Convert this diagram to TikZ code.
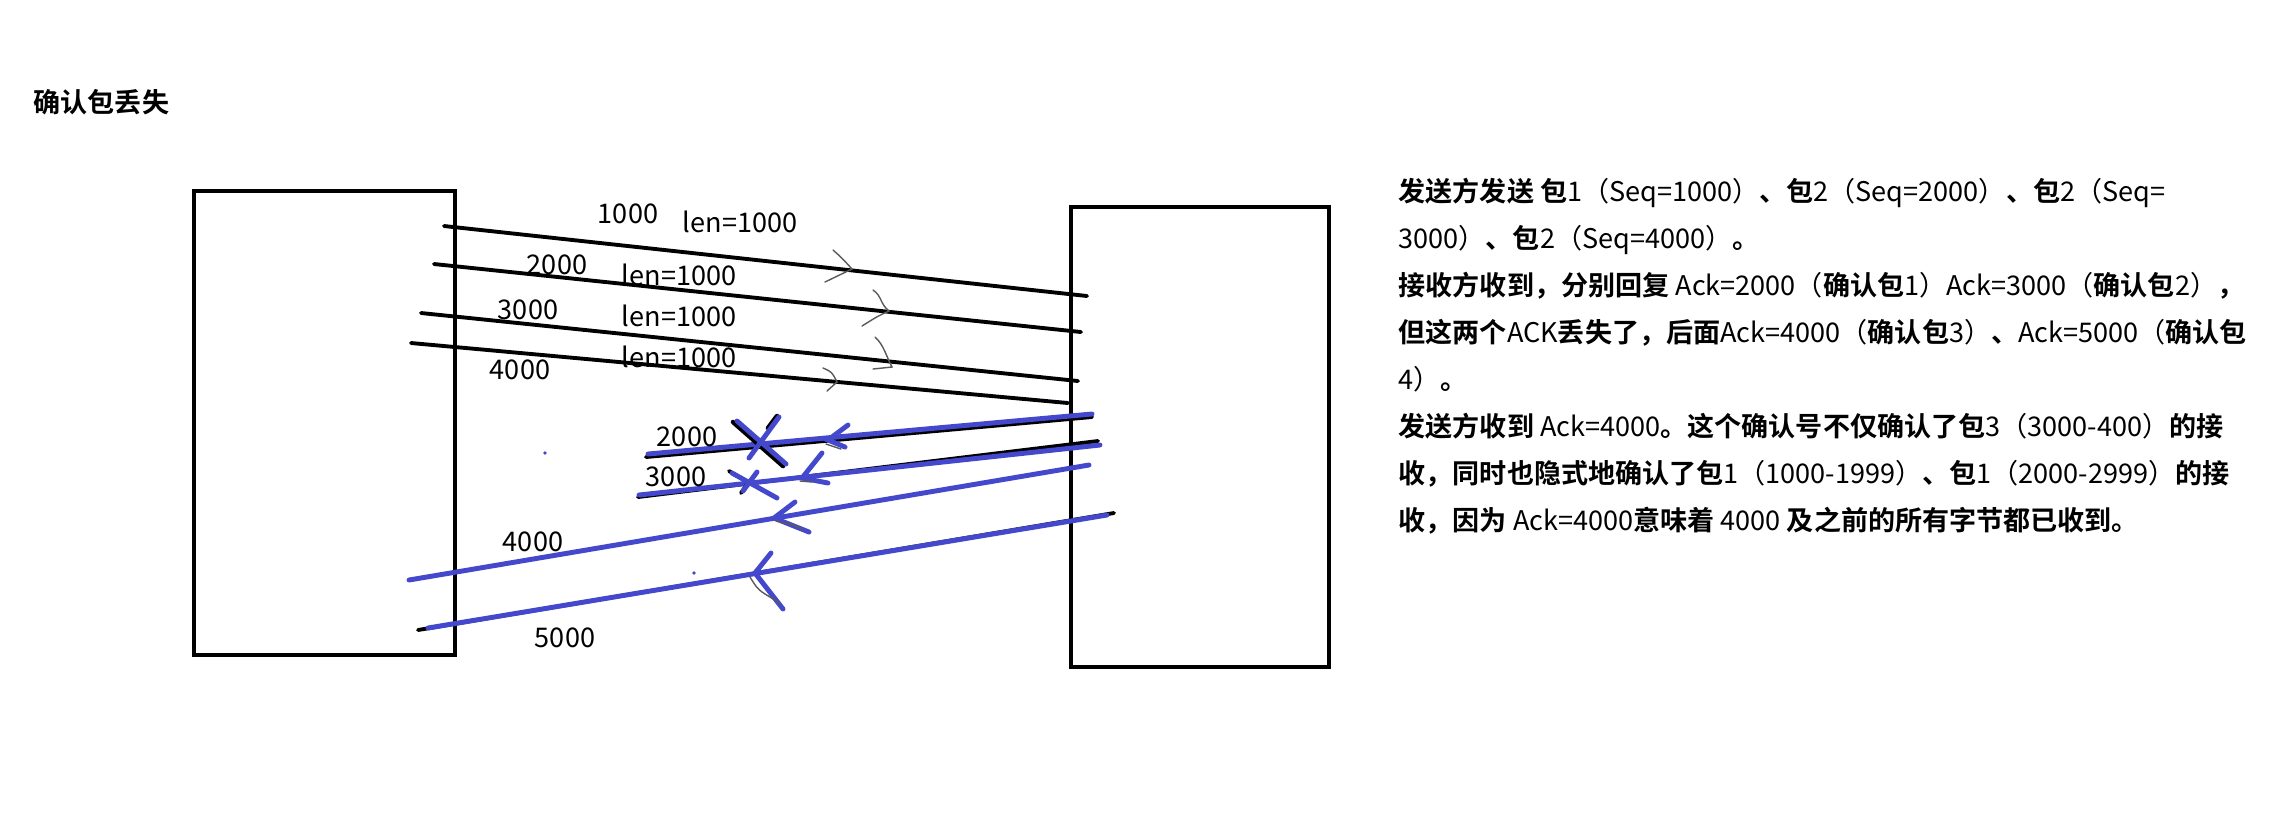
\documentclass[tikz,border=0pt]{standalone}
\usepackage{fontspec}
\setmainfont{Noto Sans CJK SC}[BoldFont={Noto Sans CJK SC Bold}]
\usetikzlibrary{positioning,calc}
\definecolor{ackBlue}{RGB}{68,72,204}
\definecolor{penGray}{RGB}{90,90,90}
\newcommand{\hb}[1]{\textbf{#1}}

\begin{document}
\begin{tikzpicture}[
  x=0.01cm, y=-0.01cm,
  font=\fontsize{7.7pt}{13.35pt}\selectfont,
  hostbox/.style={draw, line width=1.1pt, inner sep=0pt},
  seg/.style={line width=1.1pt, line cap=round},
  ack/.style={ackBlue, line width=1.4pt, line cap=round},
  pen/.style={penGray, line width=0.4pt, line cap=round},
  lbl/.style={inner sep=0pt},
]
\useasboundingbox (0,0) rectangle (2285,838);
% title
\node[lbl, anchor=west, font=\fontsize{7.7pt}{9pt}\selectfont\bfseries] (title) at (33,102) {确认包丢失};
% hosts
\node[hostbox, minimum width=2.61cm, minimum height=4.64cm] (sender) at (324.5,423) {};
\node[hostbox, minimum width=2.58cm, minimum height=4.60cm] (receiver) at (1200,437) {};
% data segments
\coordinate (s1) at (444,226); \coordinate (r1) at (1087,296);
\coordinate (s2) at (434,264); \coordinate (r2) at (1081,332);
\coordinate (s3) at (421,313); \coordinate (r3) at (1078,381);
\coordinate (s4) at (411,343); \coordinate (r4) at (1068,403);
\draw[seg] (s1) -- (r1);
\draw[seg] (s2) -- (r2);
\draw[seg] (s3) -- (r3);
\draw[seg] (s4) -- (r4);
\draw[pen] (833,250) .. controls (842,258) .. (852,269) -- (825,282);
\draw[pen] (873,290) .. controls (882,296) and (880,304) .. (889,311) .. controls (878,316) .. (862,326);
\draw[pen] (875,337) .. controls (884,345) and (886,356) .. (892,367) -- (873,369);
\draw[pen] (823,368) .. controls (832,372) .. (837,382) -- (827,391);
\node[lbl] (seq1) at (628,214) {1000};
\node[lbl] (len1) at (740,222) {len=1000};
\node[lbl] (seq2) at (557,265) {2000};
\node[lbl] (len2) at (679,275) {len=1000};
\node[lbl] (seq3) at (528,310) {3000};
\node[lbl] (len3) at (679,316) {len=1000};
\node[lbl] (seq4) at (520,370) {4000};
\node[lbl] (len4) at (679,357) {len=1000};
% acks
\coordinate (a1r) at (1092,417); \coordinate (a1s) at (646,457);
\coordinate (a2r) at (1098,441); \coordinate (a2s) at (638,497);
\coordinate (a3r) at (1089,465); \coordinate (a3s) at (409,580);
\coordinate (a4r) at (1114,513); \coordinate (a4s) at (418,630);
\draw[seg] (a1r) -- (a1s);
\draw[ack] ($(a1r)+(0,-3)$) -- ($(a1s)+(2,-3)$);
\draw[seg] (a2r) -- (a2s);
\draw[ack] ($(a2r)+(2,4)$) -- ($(a2s)+(1,-2)$);
\draw[ack] (a3r) -- (a3s);
\draw[seg] (a4r) -- (a4s);
\draw[ack] ($(a4r)+(-7,2)$) -- ($(a4s)+(10,-2)$);
% lost marks
\draw[seg, line width=1.3pt] (733,422) -- (783,466) (777,416) -- (768,428);
\draw[ack] (737,421) -- (786,464) (779,417) -- (749,458);
\draw[seg] (729,471) -- (746,481) (748,483) -- (741,493);
\draw[ack] (732,473) -- (777,498) (757,472) -- (743,491);
% ack heads
\draw[ack] (848,425) -- (828,440) -- (845,447);
\draw[ack] (822,453) -- (802,478) -- (828,483);
\draw[ack] (795,502) -- (774,518) -- (809,532);
\draw[ack] (771,553) -- (755,573) -- (783,609);
\draw[pen] (826,444) -- (841,449);
\draw[pen] (800,481) -- (812,482);
\draw[pen] (776,521) -- (790,524) -- (803,529);
\draw[pen] (750,577) .. controls (758,590) .. (775,600) -- (780,604);
\fill[ackBlue] (545,453) circle (1.8);
\fill[ackBlue] (694,573) circle (1.8);
\node[lbl] (ack1) at (687,437) {2000};
\node[lbl] (ack2) at (676,477) {3000};
\node[lbl] (ack3) at (533,542) {4000};
\node[lbl] (ack4) at (565,638) {5000};
% notes
\node[lbl, anchor=base west, align=left] (notes) at (1398,530)
  {\hb{发送方发送 包}1（Seq=1000）\hb{、包}2（Seq=2000）\hb{、包}2（Seq=\\
   3000）\hb{、包}2（Seq=4000）\hb{。}\\
   \hb{接收方收到，分别回复} Ack=2000（\hb{确认包}1）Ack=3000（\hb{确认包}2）\hb{，}\\
   \hb{但这两个}ACK\hb{丢失了，后面}Ack=4000（\hb{确认包}3）\hb{、}Ack=5000（\hb{确认包}\\
   4）\hb{。}\\
   \hb{发送方收到} Ack=4000\hb{。这个确认号不仅确认了包}3（3000-400）\hb{的接}\\
   \hb{收，同时也隐式地确认了包}1（1000-1999）\hb{、包}1（2000-2999）\hb{的接}\\
   \hb{收，因为} Ack=4000\hb{意味着} 4000 \hb{及之前的所有字节都已收到。}};
\end{tikzpicture}
\end{document}
